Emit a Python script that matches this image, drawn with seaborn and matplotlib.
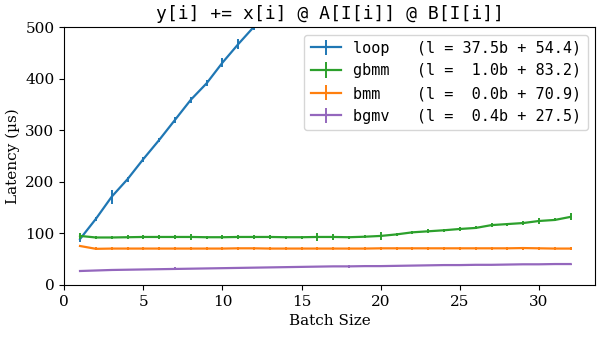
import numpy as np
import pandas as pd
import matplotlib
matplotlib.use("Agg")
import matplotlib.pyplot as plt
import seaborn as sns
from matplotlib.legend_handler import HandlerTuple

# ---- data ----
batch = list(range(1, 33))

loop_b = list(range(1, 14))
loop_y = [89, 128, 171, 205, 244, 281, 320, 359, 391, 431, 467, 501, 540]
loop_e = [6, 4, 14, 5, 5, 4, 6, 6, 6, 9, 9, 6, 6]

gbmm_y = [95, 92, 92, 92.5, 93, 93, 93, 93, 92.5, 92.5, 93, 93, 93, 92.5, 92.5, 93,
          93, 92.5, 93.5, 95, 98, 102, 104, 106, 108.5, 110.5, 116, 118, 120, 124, 126, 132]
gbmm_e = [6, 3.5, 3, 3.5, 3, 3, 3, 5, 3, 3.5, 3, 3.5, 3.5, 3, 3, 8,
          5, 3, 3, 8, 3, 3, 3.5, 3, 3, 3, 3.5, 3, 3, 6, 3, 7]

bmm_y = [75.5, 70, 70.5, 70.5, 70.5, 70.5, 70.5, 70.5, 70.5, 70.5, 71, 71, 70.5, 70.5, 70.5, 70.5,
         70.5, 70.5, 70.5, 71, 71, 71, 71, 71, 71, 71, 71, 71, 71.5, 71, 70.5, 70.5]
bmm_e = [2.5, 3, 2.5, 2.5, 3, 2.5, 3, 2.5, 2.5, 2.5, 3, 2.5, 2.5, 2.5, 2.5, 3,
         2.5, 2.5, 2.5, 3.5, 2.5, 2.5, 2.5, 2.5, 2.5, 2.5, 2.5, 2.5, 3, 3, 2.5, 2.5]

bgmv_y = [27, 28, 29, 29.5, 30, 30.5, 31, 31.5, 32, 32.5, 33, 33.5, 34, 34.5, 35, 35.5,
          36, 36, 36.5, 36.5, 37, 37.5, 38, 38.5, 38.5, 39, 39, 39.5, 40, 40, 40.5, 40.5]
bgmv_e = [1.5, 1, 1, 1, 1, 1, 3, 1, 1, 1, 1, 1, 1, 1, 1, 1,
          1, 3, 1, 1, 1, 1, 1, 1, 1, 1, 1, 1, 1, 1, 1, 1]

names = ["loop", "gbmm", "bmm", "bgmv"]
fits = [(37.5, 54.4), (1.0, 83.2), (0.0, 70.9), (0.4, 27.5)]
colors = ["#1f77b4", "#2ca02c", "#ff7f0e", "#9467bd"]

series = {
    "loop": (loop_b, loop_y, loop_e),
    "gbmm": (batch, gbmm_y, gbmm_e),
    "bmm": (batch, bmm_y, bmm_e),
    "bgmv": (batch, bgmv_y, bgmv_e),
}

rows = []
for n in names:
    xs, ys, es = series[n]
    for x, y in zip(xs, ys):
        rows.append({"batch": x, "latency": y, "kernel": n})
df = pd.DataFrame(rows)

# ---- plot ----
plt.rcParams["font.family"] = ["DejaVu Serif"]
fig = plt.figure(figsize=(6.0, 3.38), dpi=100)
ax = fig.add_axes([0.107, 0.157, 0.885, 0.763])

sns.lineplot(data=df, x="batch", y="latency", hue="kernel", hue_order=names,
             palette=colors, linewidth=1.6, ax=ax, legend=False)

handles = []
for n, c, line in zip(names, colors, ax.lines[:4]):
    xs, ys, es = series[n]
    eb = ax.errorbar(xs, ys, yerr=es, fmt="none", ecolor=c, elinewidth=1.4)
    handles.append((line, eb))

labels = [f"{n:<7}(l = {s:4.1f}b + {i:.1f})" for n, (s, i) in zip(names, fits)]
ax.legend(handles, labels, loc="upper right",
          handler_map={tuple: HandlerTuple(ndivide=1)},
          prop={"family": "DejaVu Sans Mono", "size": 11})

ax.set_xlim(left=0)
ax.set_ylim(0, 500)
ax.set_yticks([0, 100, 200, 300, 400, 500])
ax.set_xticks([0, 5, 10, 15, 20, 25, 30])
ax.tick_params(labelsize=11)
ax.set_xlabel("Batch Size", fontsize=11)
ax.set_ylabel("Latency (µs)", fontsize=11)
ax.set_title("y[i] += x[i] @ A[I[i]] @ B[I[i]]", family="DejaVu Sans Mono", fontsize=13)

fig.savefig("out.png", dpi=100)
